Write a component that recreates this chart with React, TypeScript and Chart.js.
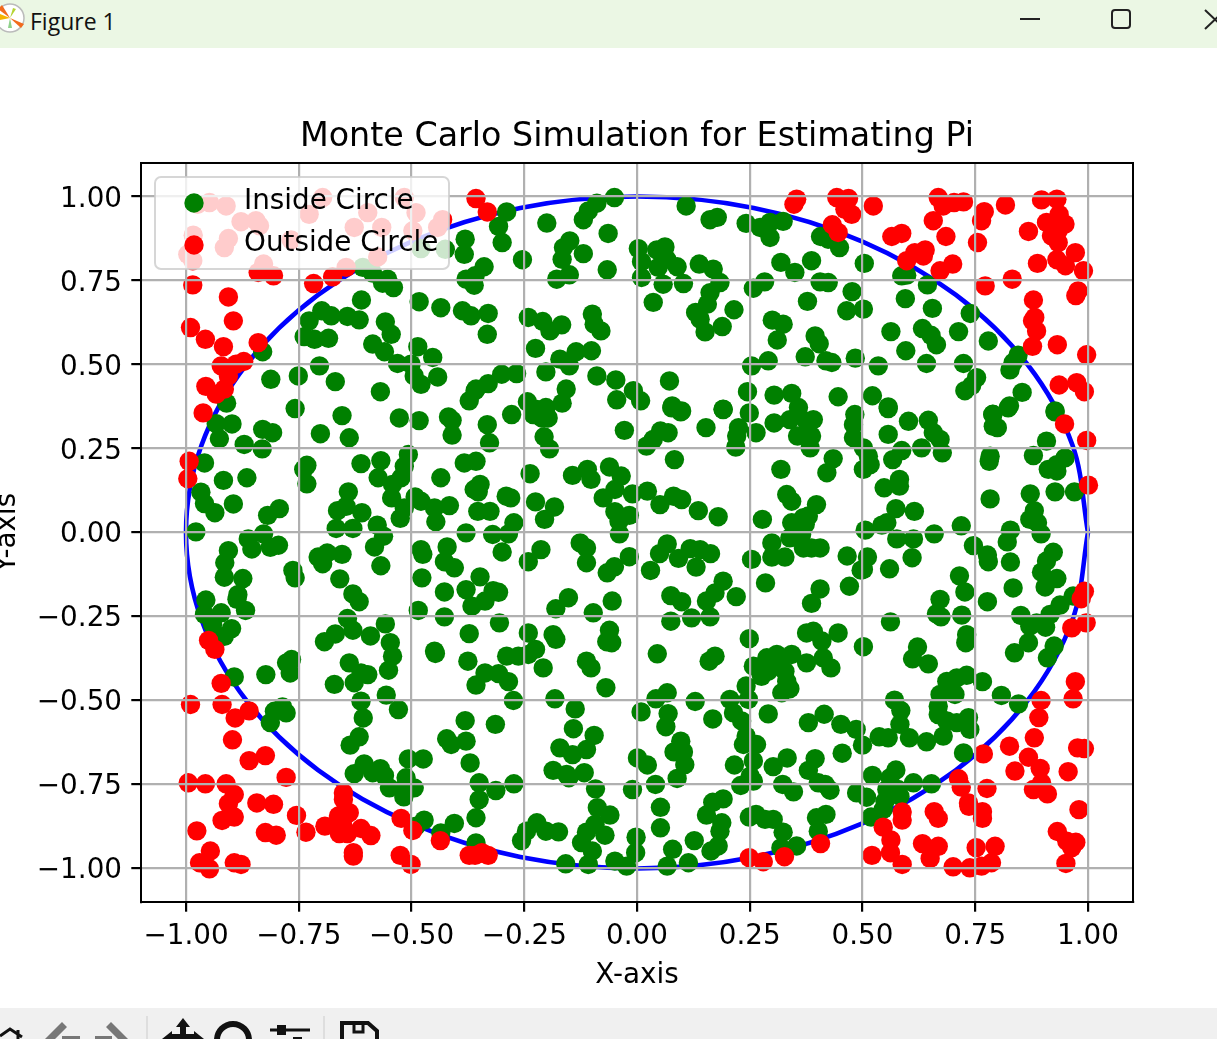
import { useEffect, useRef } from "react"
import { Chart, registerables } from "chart.js"

Chart.register(...registerables)

const tickValues = [-1, -0.75, -0.5, -0.25, 0, 0.25, 0.5, 0.75, 1]

const circleX = [1, 0.9659, 0.866, 0.7071, 0.5, 0.2588, 0, -0.2588, -0.5, -0.7071, -0.866, -0.9659, -1, -0.9659, -0.866, -0.7071, -0.5, -0.2588, 0, 0.2588, 0.5, 0.7071, 0.866, 0.9659, 1]
const circleY = [0, 0.2588, 0.5, 0.7071, 0.866, 0.9659, 1, 0.9659, 0.866, 0.7071, 0.5, 0.2588, 0, -0.2588, -0.5, -0.7071, -0.866, -0.9659, -1, -0.9659, -0.866, -0.7071, -0.5, -0.2588, 0]

const outsidePoints = [
  [-0.974, 0.977], [-0.948, 0.982], [-0.911, 0.972], [-0.878, 0.925], [-0.845, 0.928], [-0.837, 0.913], [-0.727, 0.947], [-0.697, 0.997],
  [-0.597, 0.952], [-0.627, 0.908], [-0.566, 0.908], [-0.516, 0.997], [-0.49, 0.952], [-0.497, 0.898], [-0.442, 0.908], [-0.431, 0.931],
  [-0.984, 0.885], [-0.906, 0.875], [-0.915, 0.848], [-0.996, 0.828], [-0.985, 0.809], [-0.767, 0.871], [-0.828, 0.799], [-0.84, 0.774],
  [-0.806, 0.764], [-0.575, 0.82], [-0.645, 0.789], [-0.675, 0.761], [-0.717, 0.741], [-0.985, 0.737], [-0.906, 0.701], [-0.895, 0.63],
  [-0.99, 0.61], [-0.957, 0.575], [-0.917, 0.553], [-0.84, 0.565], [-0.872, 0.509], [-0.922, 0.496], [-0.889, 0.501], [-0.906, 0.466],
  [-0.956, 0.435], [-0.933, 0.412], [-0.915, 0.427], [-0.357, 0.994], [-0.332, 0.954], [0.354, 0.992], [0.348, 0.977],
  [0.443, 0.997], [0.469, 0.994], [0.461, 0.962], [0.476, 0.947], [0.524, 0.972], [0.433, 0.916], [0.446, 0.893], [0.565, 0.881],
  [0.587, 0.89], [0.598, 0.809], [0.616, 0.833], [0.639, 0.841], [0.635, 0.823], [0.672, 0.779], [0.7, 0.799], [0.668, 0.997],
  [0.679, 0.972], [0.657, 0.928], [0.703, 0.982], [0.724, 0.984], [0.685, 0.881], [0.77, 0.955], [0.764, 0.928], [0.755, 0.863],
  [0.817, 0.975], [0.772, 0.734], [0.832, 0.754], [0.868, 0.896], [0.897, 0.99], [0.931, 0.992], [0.936, 0.947], [0.908, 0.923],
  [0.949, 0.918], [0.919, 0.883], [0.934, 0.898], [0.934, 0.863], [0.972, 0.833], [0.931, 0.812], [0.888, 0.801], [0.95, 0.794],
  [0.99, 0.779], [0.973, 0.705], [0.978, 0.719], [0.879, 0.692], [0.882, 0.64], [0.877, 0.63], [0.886, 0.6], [0.877, 0.554],
  [0.932, 0.559], [0.997, 0.529], [0.936, 0.439], [0.975, 0.446], [0.992, 0.419],
  [-0.962, 0.356], [-0.993, 0.212], [-0.996, 0.16], [-0.95, -0.321], [-0.936, -0.348],
  [0.948, 0.323], [0.997, 0.274], [1.001, 0.141], [0.992, -0.175], [0.985, -0.197], [0.964, -0.284], [0.996, -0.269],
  [-0.922, -0.449], [-0.99, -0.512], [-0.92, -0.512], [-0.891, -0.552], [-0.86, -0.531], [-0.897, -0.617], [-0.86, -0.679], [-0.824, -0.664],
  [-0.778, -0.729], [-0.995, -0.745], [-0.957, -0.748], [-0.911, -0.748], [-0.893, -0.78], [-0.906, -0.807], [-0.92, -0.857], [-0.893, -0.847],
  [-0.843, -0.805], [-0.806, -0.809], [-0.755, -0.842], [-0.734, -0.892], [-0.692, -0.874], [-0.651, -0.775], [-0.651, -0.795], [-0.662, -0.844],
  [-0.638, -0.834], [-0.653, -0.869], [-0.66, -0.896], [-0.642, -0.896], [-0.612, -0.881], [-0.59, -0.902], [-0.976, -0.888], [-0.946, -0.948],
  [-0.97, -0.983], [-0.948, -1.001], [-0.893, -0.983], [-0.878, -0.988], [-0.824, -0.893], [-0.8, -0.901], [-0.629, -0.953], [-0.629, -0.963],
  [-0.523, -0.851], [-0.497, -0.887], [-0.525, -0.961], [-0.501, -0.988], [-0.436, -0.917], [-0.372, -0.961],
  [-0.344, -0.953], [-0.33, -0.961], [-0.359, -0.961], [0.249, -0.968], [0.28, -0.98], [0.327, -0.965],
  [0.407, -0.926], [0.588, -0.832], [0.588, -0.856], [0.659, -0.831], [0.668, -0.851], [0.546, -0.877], [0.563, -0.915], [0.562, -0.953],
  [0.521, -0.961], [0.588, -0.988], [0.633, -0.926], [0.668, -0.934], [0.65, -0.97], [0.713, -0.733], [0.719, -0.758], [0.735, -0.805],
  [0.736, -0.815], [0.766, -0.831], [0.766, -0.851], [0.752, -0.938], [0.794, -0.934], [0.786, -0.983], [0.764, -0.993], [0.738, -0.998],
  [0.701, -0.995], [0.768, -0.659], [0.826, -0.636], [0.868, -0.669], [0.894, -0.702], [0.838, -0.71], [0.881, -0.611], [0.891, -0.551],
  [0.896, -0.5], [0.967, -0.495], [0.972, -0.444], [0.977, -0.641], [0.992, -0.643], [0.956, -0.712], [0.776, -0.762], [0.879, -0.765],
  [0.897, -0.745], [0.91, -0.778], [0.98, -0.825], [0.932, -0.89], [0.953, -0.919], [0.973, -0.922], [0.964, -0.938], [0.951, -0.985],
]

const insidePoints = [
  [-0.479, 0.845], [-0.425, 0.843], [-0.608, 0.789], [-0.586, 0.772], [-0.553, 0.754], [-0.564, 0.742], [-0.54, 0.729], [-0.611, 0.692],
  [-0.483, 0.687], [-0.435, 0.669], [-0.381, 0.873], [-0.383, 0.828], [-0.387, 0.66], [-0.368, 0.645], [-0.379, 0.754], [-0.361, 0.736],
  [-0.699, 0.66], [-0.727, 0.63], [-0.678, 0.645], [-0.642, 0.643], [-0.616, 0.633], [-0.738, 0.583], [-0.715, 0.575], [-0.684, 0.578],
  [-0.558, 0.627], [-0.545, 0.59], [-0.586, 0.561], [-0.56, 0.538], [-0.531, 0.503], [-0.501, 0.501], [-0.486, 0.553], [-0.453, 0.521],
  [-0.494, 0.466], [-0.442, 0.463], [-0.479, 0.441], [-0.83, 0.538], [-0.812, 0.456], [-0.751, 0.466], [-0.704, 0.496], [-0.669, 0.449],
  [-0.569, 0.419], [-0.372, 0.392], [-0.357, 0.427], [-0.91, 0.385],
  [-0.289, 0.954], [-0.307, 0.911], [-0.299, 0.863], [-0.2, 0.921], [-0.254, 0.812], [-0.339, 0.791], [-0.359, 0.764], [-0.089, 0.98],
  [-0.108, 0.957], [-0.119, 0.931], [-0.05, 0.997], [-0.064, 0.89], [-0.149, 0.868], [-0.163, 0.848], [-0.166, 0.813], [-0.119, 0.83],
  [-0.066, 0.782], [-0.15, 0.767], [-0.178, 0.754], [0.003, 0.845], [0.01, 0.806], [0.01, 0.759], [0.044, 0.841], [0.062, 0.85],
  [0.047, 0.789], [0.066, 0.813], [0.089, 0.791], [0.058, 0.739], [0.103, 0.741], [0.036, 0.685], [0.109, 0.972], [0.162, 0.931],
  [0.178, 0.938], [0.242, 0.92], [0.273, 0.908], [0.295, 0.923], [0.295, 0.878], [0.324, 0.926], [0.138, 0.799], [0.169, 0.784],
  [0.184, 0.744], [0.162, 0.714], [0.156, 0.68], [0.13, 0.655], [0.14, 0.635], [0.151, 0.597], [0.189, 0.613], [0.215, 0.663],
  [0.258, 0.727], [0.283, 0.746], [0.319, 0.804], [0.35, 0.774], [0.3, 0.632], [0.324, 0.62], [0.311, 0.573], [-0.33, 0.652],
  [-0.332, 0.59], [-0.241, 0.64], [-0.209, 0.628], [-0.193, 0.6], [-0.167, 0.618], [-0.099, 0.65], [-0.095, 0.62], [-0.08, 0.6],
  [-0.225, 0.548], [-0.171, 0.516], [-0.15, 0.496], [-0.135, 0.538], [-0.101, 0.541], [0.254, 0.496], [0.291, 0.511], [-0.3, 0.471],
  [-0.267, 0.473], [-0.33, 0.443], [-0.359, 0.422], [-0.202, 0.478], [-0.089, 0.466], [-0.047, 0.454], [-0.008, 0.422], [0.008, 0.392],
  [-0.045, 0.395], [-0.157, 0.427], [-0.166, 0.385], [-0.243, 0.389], [-0.202, 0.372], [0.072, 0.451], [0.078, 0.377], [0.191, 0.367],
  [0.245, 0.419], [0.304, 0.409], [0.343, 0.414], [0.358, 0.372], [0.099, 0.362],
  [0.407, 0.881], [0.424, 0.873], [0.449, 0.848], [0.387, 0.809], [0.504, 0.801], [0.406, 0.746], [0.424, 0.744], [0.477, 0.717],
  [0.378, 0.688], [0.465, 0.66], [0.502, 0.665], [0.587, 0.764], [0.598, 0.766], [0.644, 0.737], [0.595, 0.696], [0.655, 0.667],
  [0.739, 0.652], [0.563, 0.598], [0.633, 0.607], [0.652, 0.587], [0.664, 0.559], [0.713, 0.598], [0.779, 0.57], [0.395, 0.585],
  [0.404, 0.562], [0.373, 0.523], [0.419, 0.511], [0.432, 0.506], [0.484, 0.519], [0.535, 0.496], [0.596, 0.541], [0.642, 0.503],
  [0.724, 0.503], [0.753, 0.461], [0.742, 0.437], [0.727, 0.422], [0.845, 0.528], [0.834, 0.506], [0.827, 0.484], [0.854, 0.417],
  [0.927, 0.362], [0.446, 0.404], [0.522, 0.407], [0.557, 0.374], [0.826, 0.377], [0.789, 0.352],
  [-0.758, 0.369], [-0.654, 0.348], [-0.702, 0.294], [-0.638, 0.282], [-0.527, 0.341], [-0.483, 0.333], [-0.418, 0.344], [-0.41, 0.334],
  [-0.41, 0.29], [-0.933, 0.324], [-0.898, 0.323], [-0.926, 0.279], [-0.871, 0.262], [-0.83, 0.307], [-0.808, 0.297], [-0.831, 0.249],
  [-0.959, 0.207], [-0.917, 0.155], [-0.865, 0.163], [-0.967, 0.12], [-0.959, 0.086], [-0.895, 0.085], [-0.936, 0.059], [-0.793, 0.071],
  [-0.819, 0.051], [-0.978, 0.002], [-0.732, 0.2], [-0.739, 0.188], [-0.732, 0.145], [-0.612, 0.205], [-0.568, 0.214], [-0.574, 0.163],
  [-0.507, 0.232], [-0.516, 0.197], [-0.523, 0.163], [-0.542, 0.143], [-0.544, 0.103], [-0.435, 0.163], [-0.383, 0.207], [-0.357, 0.212],
  [-0.361, 0.128], [-0.353, 0.063], [-0.64, 0.121], [-0.664, 0.065], [-0.645, 0.078], [-0.61, 0.059], [-0.667, 0.012], [-0.63, 0.012],
  [-0.576, 0.022], [-0.562, -0.011], [-0.582, -0.043], [-0.568, -0.099], [-0.525, 0.042], [-0.516, 0.073], [-0.492, 0.106], [-0.479, 0.093],
  [-0.449, 0.073], [-0.416, 0.08], [-0.446, 0.032], [-0.379, -0.001], [-0.862, -0.019], [-0.828, -0.004], [-0.854, -0.049], [-0.813, -0.044],
  [-0.795, -0.038], [-0.906, -0.054], [-0.914, -0.09], [-0.915, -0.133], [-0.874, -0.137], [-0.885, -0.185], [-0.887, -0.199], [-0.956, -0.201],
  [-0.922, -0.239], [-0.959, -0.244], [-0.868, -0.232], [-0.707, -0.073], [-0.687, -0.061], [-0.697, -0.093], [-0.654, -0.065], [-0.763, -0.113],
  [-0.758, -0.135], [-0.659, -0.138], [-0.63, -0.183], [-0.616, -0.206], [-0.479, -0.051], [-0.475, -0.065], [-0.421, -0.043], [-0.427, -0.087],
  [-0.405, -0.105], [-0.477, -0.135], [-0.427, -0.177], [-0.379, -0.17], [-0.366, -0.219], [-0.485, -0.232], [-0.427, -0.251], [-0.642, -0.256],
  [-0.63, -0.291], [-0.558, -0.272], [-0.591, -0.308], [-0.669, -0.302], [-0.693, -0.325], [-0.547, -0.328], [-0.372, -0.301], [-0.899, -0.286],
  [-0.915, -0.309], [-0.941, -0.274], [-0.449, -0.353],
  [-0.278, 0.351], [-0.332, 0.321], [-0.327, 0.267], [-0.23, 0.351], [-0.211, 0.341], [-0.222, 0.366], [-0.197, 0.341], [-0.206, 0.285],
  [-0.194, 0.249], [-0.028, 0.304], [0.052, 0.302], [0.069, 0.297], [0.036, 0.277], [0.021, 0.257], [0.097, 0.359], [0.077, 0.371],
  [0.153, 0.312], [0.191, 0.366], [0.249, 0.356], [0.264, 0.297], [0.225, 0.312], [0.221, 0.287], [0.219, 0.254], [0.304, 0.326],
  [0.339, 0.336], [0.356, 0.287], [0.376, 0.331], [-0.237, 0.175], [0.083, 0.217], [0.319, 0.188], [-0.348, 0.143], [-0.352, 0.121],
  [-0.29, 0.108], [-0.28, 0.103], [-0.225, 0.091], [-0.183, 0.076], [-0.205, 0.039], [-0.326, 0.063], [-0.273, 0.029], [-0.285, -0.004],
  [-0.32, -0.006], [-0.299, -0.058], [-0.213, -0.051], [-0.241, -0.087], [-0.143, 0.17], [-0.11, 0.188], [-0.102, 0.158], [-0.061, 0.195],
  [-0.035, 0.168], [-0.049, 0.128], [-0.075, 0.103], [-0.01, 0.115], [0.023, 0.123], [0.051, 0.083], [0.081, 0.108], [0.099, 0.098],
  [0.136, 0.065], [0.18, 0.047], [-0.049, 0.062], [-0.017, 0.051], [-0.04, 0.034], [-0.039, -0.004], [0.278, 0.039], [0.332, 0.113],
  [0.343, 0.093], [0.343, 0.029], [0.369, 0.044], [0.299, -0.031], [0.299, -0.073], [0.328, -0.073], [0.369, -0.046], [0.339, -0.016],
  [0.365, -0.006], [-0.126, -0.031], [-0.112, -0.046], [-0.112, -0.09], [-0.066, -0.12], [-0.05, -0.102], [-0.017, -0.072], [0.067, -0.034],
  [0.05, -0.063], [0.092, -0.077], [0.118, -0.048], [0.14, -0.051], [0.163, -0.063], [0.131, -0.103], [0.03, -0.113], [0.254, -0.08],
  [0.285, -0.15], [0.191, -0.145], [0.173, -0.18], [0.154, -0.204], [0.22, -0.191], [0.075, -0.188], [0.099, -0.206], [0.162, -0.251],
  [0.121, -0.254], [0.075, -0.264], [-0.348, -0.132], [-0.319, -0.173], [-0.307, -0.178], [-0.337, -0.204], [-0.152, -0.194], [-0.18, -0.227],
  [-0.055, -0.204], [-0.097, -0.239], [-0.305, -0.269], [-0.241, -0.299], [-0.186, -0.304], [-0.18, -0.318], [-0.061, -0.291], [-0.056, -0.328],
  [-0.067, -0.325], [-0.225, -0.348], [0.249, -0.316], [0.376, -0.299],
  [0.391, 0.336], [0.483, 0.351], [0.48, 0.321], [0.557, 0.369], [0.602, 0.331], [0.646, 0.334], [0.387, 0.287], [0.48, 0.282],
  [0.384, 0.252], [0.557, 0.292], [0.657, 0.297], [0.672, 0.277], [0.631, 0.252], [0.677, 0.237], [0.502, 0.252], [0.513, 0.227],
  [0.587, 0.244], [0.567, 0.217], [0.435, 0.22], [0.421, 0.178], [0.517, 0.202], [0.502, 0.188], [0.548, 0.133], [0.582, 0.158],
  [0.582, 0.138], [0.789, 0.351], [0.79, 0.316], [0.799, 0.312], [0.823, 0.371], [0.927, 0.359], [0.908, 0.272], [0.783, 0.227],
  [0.781, 0.212], [0.879, 0.229], [0.949, 0.222], [0.931, 0.202], [0.912, 0.188], [0.931, 0.183], [0.783, 0.1], [0.872, 0.115],
  [0.927, 0.121], [0.97, 0.121], [0.398, 0.083], [0.38, 0.049], [0.373, 0.024], [0.574, 0.071], [0.615, 0.063], [0.554, 0.029],
  [0.543, 0.022], [0.506, 0.007], [0.719, 0.02], [0.659, -0.004], [0.576, -0.019], [0.613, -0.019], [0.61, -0.075], [0.466, -0.07],
  [0.511, -0.073], [0.502, -0.11], [0.56, -0.108], [0.497, -0.112], [0.406, -0.046], [0.387, -0.046], [0.881, 0.065], [0.871, 0.039],
  [0.888, 0.029], [0.896, -0.004], [0.828, 0.007], [0.821, -0.028], [0.746, -0.039], [0.777, -0.067], [0.779, -0.087], [0.828, -0.088],
  [0.923, -0.059], [0.908, -0.085], [0.897, -0.118], [0.931, -0.137], [0.905, -0.162], [0.471, -0.16], [0.406, -0.168], [0.387, -0.211],
  [0.715, -0.129], [0.727, -0.177], [0.672, -0.199], [0.664, -0.242], [0.674, -0.251], [0.72, -0.246], [0.777, -0.206], [0.834, -0.165],
  [0.967, -0.189], [0.938, -0.216], [0.916, -0.244], [0.851, -0.247], [0.886, -0.269], [0.871, -0.279], [0.906, -0.282], [0.562, -0.266],
  [0.391, -0.294], [0.41, -0.323], [0.446, -0.299], [0.502, -0.34], [0.622, -0.341], [0.731, -0.304], [0.729, -0.328], [0.868, -0.328],
  [0.925, -0.338], [0.837, -0.358],
  [-0.893, -0.43], [-0.823, -0.423], [-0.777, -0.388], [-0.766, -0.378], [-0.769, -0.418], [-0.638, -0.388], [-0.612, -0.418], [-0.597, -0.423],
  [-0.627, -0.447], [-0.671, -0.452], [-0.542, -0.368], [-0.551, -0.41], [-0.556, -0.484], [-0.529, -0.527], [-0.447, -0.36], [-0.375, -0.383],
  [-0.357, -0.454], [-0.786, -0.519], [-0.804, -0.532], [-0.778, -0.537], [-0.813, -0.566], [-0.612, -0.502], [-0.607, -0.552], [-0.616, -0.608],
  [-0.636, -0.633], [-0.381, -0.56], [-0.422, -0.614], [-0.412, -0.631], [-0.379, -0.621], [-0.37, -0.686], [-0.507, -0.674], [-0.474, -0.674],
  [-0.605, -0.689], [-0.627, -0.718], [-0.586, -0.715], [-0.569, -0.703], [-0.56, -0.723], [-0.512, -0.73], [-0.549, -0.76], [-0.516, -0.76],
  [-0.494, -0.76], [-0.517, -0.787], [-0.35, -0.745], [-0.35, -0.795], [-0.357, -0.849], [-0.472, -0.856], [-0.49, -0.874], [-0.435, -0.894],
  [-0.405, -0.866], [-0.357, -0.924],
  [-0.289, -0.368], [-0.263, -0.368], [-0.241, -0.363], [-0.208, -0.403], [-0.112, -0.383], [-0.102, -0.403], [-0.069, -0.462], [0.045, -0.361],
  [0.16, -0.383], [0.173, -0.368], [-0.337, -0.418], [-0.307, -0.42], [-0.285, -0.444], [-0.274, -0.5], [-0.182, -0.495], [-0.137, -0.525],
  [-0.141, -0.584], [-0.095, -0.604], [-0.171, -0.641], [-0.143, -0.661], [-0.112, -0.646], [-0.186, -0.708], [-0.156, -0.72], [-0.117, -0.715],
  [-0.151, -0.73], [-0.273, -0.748], [-0.313, -0.768], [-0.314, -0.571], [-0.092, -0.763], [-0.088, -0.819], [-0.06, -0.841], [-0.093, -0.869],
  [-0.112, -0.892], [-0.071, -0.901], [-0.123, -0.923], [-0.099, -0.948], [-0.108, -0.988], [-0.158, -0.986], [-0.256, -0.917], [-0.245, -0.889],
  [-0.222, -0.864], [-0.202, -0.889], [-0.174, -0.891], [-0.049, -0.978], [-0.023, -0.993], [-0.003, -0.953], [-0.002, -0.907], [0.009, -0.534],
  [0.042, -0.495], [0.067, -0.477], [0.069, -0.539], [0.064, -0.578], [0.129, -0.503], [0.168, -0.555], [0.206, -0.497], [0.242, -0.457],
  [0.247, -0.497], [0.214, -0.537], [0.232, -0.561], [0.236, -0.631], [0.265, -0.631], [0.242, -0.606], [0.097, -0.621], [0.082, -0.653],
  [0.103, -0.653], [0.106, -0.691], [0.089, -0.732], [0.001, -0.671], [0.023, -0.692], [0.041, -0.75], [-0.01, -0.765], [0.052, -0.818],
  [0.052, -0.879], [0.079, -0.943], [0.067, -0.993], [0.114, -0.983], [0.127, -0.917], [0.164, -0.948], [0.18, -0.933], [0.184, -0.889],
  [0.188, -0.864], [0.154, -0.841], [0.168, -0.803], [0.191, -0.793], [0.291, -0.54], [0.38, -0.566], [0.216, -0.692], [0.258, -0.68],
  [0.251, -0.725], [0.23, -0.753], [0.258, -0.74], [0.302, -0.697], [0.333, -0.671], [0.38, -0.708], [0.323, -0.75], [0.347, -0.772],
  [0.249, -0.847], [0.264, -0.839], [0.284, -0.854], [0.302, -0.854], [0.324, -0.892], [0.319, -0.939], [0.354, -0.933], [0.276, -0.428],
  [0.291, -0.413], [0.328, -0.413], [0.332, -0.443], [0.321, -0.477], [0.339, -0.465], [0.317, -0.388], [0.288, -0.373], [0.31, -0.363],
  [0.343, -0.363], [0.376, -0.388], [0.258, -0.398],
  [0.413, -0.373], [0.43, -0.403], [0.611, -0.376], [0.646, -0.391], [0.91, -0.373], [0.731, -0.425], [0.709, -0.433], [0.687, -0.443],
  [0.766, -0.444], [0.672, -0.482], [0.705, -0.482], [0.808, -0.485], [0.846, -0.51], [0.571, -0.499], [0.585, -0.53], [0.668, -0.517],
  [0.668, -0.542], [0.687, -0.561], [0.709, -0.566], [0.735, -0.551], [0.738, -0.586], [0.679, -0.606], [0.583, -0.571], [0.557, -0.611],
  [0.537, -0.608], [0.604, -0.611], [0.642, -0.623], [0.724, -0.656], [0.415, -0.541], [0.452, -0.571], [0.486, -0.586], [0.5, -0.633],
  [0.455, -0.657], [0.395, -0.673], [0.402, -0.745], [0.428, -0.767], [0.417, -0.75], [0.522, -0.723], [0.574, -0.707], [0.561, -0.73],
  [0.613, -0.745], [0.653, -0.748], [0.554, -0.765], [0.579, -0.765], [0.487, -0.775], [0.509, -0.788], [0.55, -0.8], [0.583, -0.785],
  [0.519, -0.847], [0.546, -0.824], [0.419, -0.839], [0.398, -0.849], [0.402, -0.889],
]

const FONT = "'DejaVu Sans', sans-serif"
const LABEL_SIZE = 27.8
const MARKER_RADIUS = 9.7

const toXY = (points: number[][]) => points.map(([x, y]) => ({ x, y }))
const formatTick = (v: number) => (v < 0 ? "\u2212" : "") + Math.abs(v).toFixed(2)

// frame on all four sides, y tick labels and the legend over the points like matplotlib's
const framePlugin = {
  id: "frameAndLegend",
  afterDraw(chart: Chart) {
    const { ctx, chartArea } = chart
    ctx.save()
    ctx.strokeStyle = "#000"
    ctx.lineWidth = 2
    ctx.strokeRect(chartArea.left, chartArea.top, chartArea.right - chartArea.left, chartArea.bottom - chartArea.top)

    // canvas "middle" sits too high for these digits, so use the alphabetic baseline
    ctx.font = `${LABEL_SIZE}px ${FONT}`
    ctx.fillStyle = "#000"
    ctx.textAlign = "right"
    ctx.textBaseline = "alphabetic"
    tickValues.forEach((v) => {
      ctx.fillText(formatTick(v), 122, chart.scales.y.getPixelForValue(v) + 10)
    })

    ctx.beginPath()
    ctx.roundRect(155, 177, 294, 92, 6)
    ctx.fillStyle = "rgba(255,255,255,0.8)"
    ctx.fill()
    ctx.strokeStyle = "rgba(204,204,204,0.8)"
    ctx.lineWidth = 2
    ctx.stroke()

    const entries = [chart.data.datasets[1], chart.data.datasets[2]]
    ctx.textAlign = "left"
    ctx.textBaseline = "middle"
    entries.forEach((ds, i) => {
      ctx.beginPath()
      ctx.arc(194, 203 + i * 42, MARKER_RADIUS, 0, Math.PI * 2)
      ctx.fillStyle = ds.backgroundColor as string
      ctx.fill()
      ctx.fillStyle = "#000"
      ctx.fillText(ds.label as string, 244, 202 + i * 42)
    })
    ctx.restore()
  },
}

function ScatterChart() {
  const chartRef = useRef<HTMLCanvasElement>(null)

  useEffect(() => {
    if (!chartRef.current) return
    const axis = (label: string, titlePadding: object, showTicks: boolean, afterFit: (s: any) => void) => ({
      type: "linear" as const,
      min: -1.0998,
      max: 1.0998,
      afterBuildTicks: (s: any) => {
        s.ticks = tickValues.map((value) => ({ value }))
      },
      afterFit,
      grid: { color: "#b0b0b0", lineWidth: 2.2, z: 1, tickColor: "#000", tickWidth: 2.2, tickLength: 9.7 },
      border: { color: "#000", width: 2, z: 1 },
      ticks: {
        display: showTicks,
        color: "#000",
        padding: 8.5,
        maxRotation: 0,
        autoSkip: false,
        font: { family: FONT, size: LABEL_SIZE },
        callback: (v: any) => formatTick(Number(v)),
      },
      title: { display: true, text: label, color: "#000", font: { family: FONT, size: LABEL_SIZE }, padding: titlePadding },
    })

    const chart = new Chart(chartRef.current, {
      type: "scatter",
      data: {
        datasets: [
          {
            label: "Circle",
            data: circleX.map((x, i) => ({ x, y: circleY[i] })),
            showLine: true,
            tension: 0.34,
            borderColor: "#0000ff",
            borderWidth: 4.6,
            pointRadius: 0,
            order: 3,
          },
          {
            label: "Inside Circle",
            data: toXY(insidePoints),
            backgroundColor: "#008000",
            borderWidth: 0,
            pointRadius: MARKER_RADIUS,
            order: 2,
          },
          {
            label: "Outside Circle",
            data: toXY(outsidePoints),
            backgroundColor: "#ff0000",
            borderWidth: 0,
            pointRadius: MARKER_RADIUS,
            order: 1,
          },
        ],
      },
      options: {
        responsive: false,
        animation: false,
        layout: { padding: { right: 84 } },
        scales: {
          x: axis("X-axis", { top: 0, bottom: 46.3 }, true, (s) => {
            s.height = 137
          }),
          y: axis("Y-axis", { top: -8.7, bottom: 0 }, false, (s) => {
            s.width = 141
          }),
        },
        plugins: {
          legend: { display: false },
          tooltip: { enabled: false },
          title: {
            display: true,
            fullSize: false,
            text: "Monte Carlo Simulation for Estimating Pi",
            color: "#000",
            font: { family: FONT, size: 33.33, weight: "normal" },
            padding: { top: 117, bottom: 6 },
          },
        },
      },
      plugins: [framePlugin],
    })

    return () => chart.destroy()
  }, [])

  return <canvas ref={chartRef} width={1217} height={1039} style={{ position: "absolute", left: 0, top: 0 }} />
}

function WindowChrome() {
  return (
    <>
      <div style={{ position: "absolute", left: 0, top: 0, width: 1217, height: 48, background: "#ebf7e4" }} />
      <div style={{ position: "absolute", left: 30, top: 5, font: "23px 'Open Sans', sans-serif", color: "#111" }}>Figure 1</div>
      <div style={{ position: "absolute", left: 0, top: 1008, width: 1217, height: 31, background: "#f0f0f0" }} />
      <svg width={1217} height={1039} style={{ position: "absolute", left: 0, top: 0 }}>
        {/* figure icon */}
        <circle cx={10} cy={18} r={14} fill="#fff" stroke="#bbb" strokeWidth={1.5} />
        <path d="M10 18 L0 14 L0 20 Z" fill="#f5b400" />
        <path d="M10 18 L2 5 L-2 9 Z" fill="#f26b1d" />
        <path d="M10 18 L21 28 L24 24 Z" fill="#f26b1d" />
        <path d="M10 18 L16 9 L13 8 Z" fill="#b5d334" />
        <path d="M10 18 L12 28 L8 28 Z" fill="#8fd18a" />
        {/* window buttons */}
        <path d="M1020 19 H1040" stroke="#222" strokeWidth={2} />
        <rect x={1112} y={10} width={18} height={18} rx={3} fill="none" stroke="#222" strokeWidth={2} />
        <path d="M1205 10 L1225 29 M1205 29 L1225 10" stroke="#222" strokeWidth={2} />
        {/* toolbar, cut off by the window */}
        <path d="M147 1016 V1039 M324 1016 V1039" stroke="#ccc" strokeWidth={1} />
        <path d="M0 1036 L10 1029 L22 1037 M18 1030 V1039" stroke="#111" strokeWidth={3} fill="none" />
        <path d="M45 1039 L62 1022 L67 1027 L55 1039 Z M62 1039 L80 1039 L80 1036 L62 1036 Z" fill="#777" />
        <path d="M128 1039 L111 1022 L106 1027 L118 1039 Z M95 1039 L112 1039 L112 1036 L95 1036 Z" fill="#777" />
        <path d="M183 1018 L190 1027 L186 1027 V1034 H194 V1031 L204 1039 H162 L172 1031 V1034 H180 V1027 L176 1027 Z" fill="#111" />
        <circle cx={233} cy={1040} r={16} fill="none" stroke="#111" strokeWidth={6} />
        <path d="M270 1030 H310" stroke="#111" strokeWidth={3} />
        <rect x={277} y={1025} width={9} height={10} fill="#111" />
        <rect x={293} y={1037} width={9} height={3} fill="#111" />
        <path d="M342 1039 V1023 H368 L377 1031 V1039" fill="none" stroke="#111" strokeWidth={4} />
        <rect x={354} y={1023} width={9} height={9} fill="none" stroke="#111" strokeWidth={3} />
      </svg>
    </>
  )
}

export default function App() {
  return (
    <div style={{ position: "absolute", left: 0, top: 0, width: 1217, height: 1039, overflow: "hidden", background: "#fff" }}>
      <WindowChrome />
      <ScatterChart />
    </div>
  )
}
